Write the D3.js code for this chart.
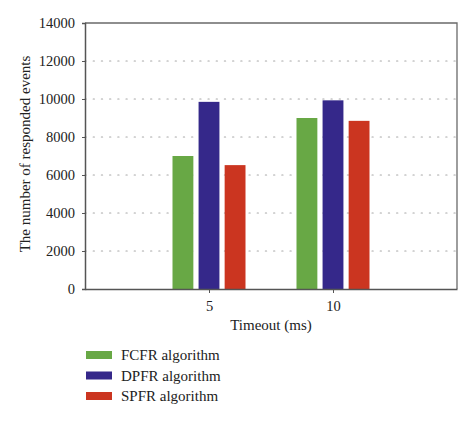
<!DOCTYPE html>
<html>
<head>
<meta charset="utf-8">
<script src="https://cdn.jsdelivr.net/npm/d3@7"></script>
<style>
  body { margin: 0; background: #fff; }
  text { font-family: 'Liberation Serif', 'DejaVu Serif', serif; fill: #222; }
</style>
</head>
<body>
<svg id="chart" width="474" height="421"></svg>
<script>
// chart data
const timeouts = ['5', '10']
const seriesNames = ['FCFR algorithm', 'DPFR algorithm', 'SPFR algorithm']
const fcfrValues = [7000, 9000]
const dpfrValues = [9850, 9930]
const spfrValues = [6520, 8850]
const yTicks = [0, 2000, 4000, 6000, 8000, 10000, 12000, 14000]

const colors = ['#68a845', '#35288a', '#cb3520']
const series = [fcfrValues, dpfrValues, spfrValues]

const margin = { left: 85, top: 23, right: 17, bottom: 132 }
const width = 474 - margin.left - margin.right
const height = 421 - margin.top - margin.bottom

const svg = d3.select('#chart')
const g = svg.append('g')
  .attr('transform', `translate(${margin.left}, ${margin.top})`)

const x = d3.scalePoint()
  .domain(timeouts)
  .range([0, width])
  .padding(1)

const inner = d3.scaleBand()
  .domain(d3.range(series.length))
  .range([-36.5, 36.5])
  .paddingInner(0.2)

const y = d3.scaleLinear()
  .domain([0, 14000])
  .range([height, 0])

// dotted grid lines
g.append('g')
  .selectAll('line')
  .data(yTicks.filter(d => d > 0 && d < 14000))
  .enter()
  .append('line')
  .attr('x1', 0)
  .attr('x2', width)
  .attr('y1', d => y(d))
  .attr('y2', d => y(d))
  .style('stroke', '#a8a8a8')
  .style('stroke-width', 1.2)
  .style('stroke-dasharray', '1.2,7')
  .style('stroke-linecap', 'round')

// bars
const rows = []
timeouts.forEach((t, i) => {
  series.forEach((s, k) => rows.push({ t, k, value: s[i] }))
})

g.append('g')
  .selectAll('rect')
  .data(rows)
  .enter()
  .append('rect')
  .attr('x', d => x(d.t) + inner(d.k))
  .attr('width', inner.bandwidth())
  .attr('y', d => y(d.value))
  .attr('height', d => height - y(d.value))
  .style('fill', d => colors[d.k])

// frame top and right
g.append('path')
  .attr('d', `M0,0H${width}V${height}`)
  .style('fill', 'none')
  .style('stroke', '#6a6a6a')
  .style('stroke-width', 1.3)

const yAxis = g.append('g')
  .call(d3.axisLeft(y).tickValues(yTicks).tickSize(3).tickPadding(7).tickFormat(d3.format('d')))
yAxis.select('.domain').style('stroke', '#555').style('stroke-width', 1.5)
yAxis.selectAll('.tick line').style('stroke', '#555')
yAxis.selectAll('text').style('font-size', '14.5px').style('fill', '#222')

const xAxis = g.append('g')
  .attr('transform', `translate(0, ${height})`)
  .call(d3.axisBottom(x).tickSize(4).tickPadding(8).tickSizeOuter(0))
xAxis.select('.domain').style('stroke', '#555').style('stroke-width', 1.5)
xAxis.selectAll('.tick line').style('stroke', '#555')
xAxis.selectAll('text').style('font-size', '14.5px').style('fill', '#222')

// axis titles
svg.append('text')
  .attr('x', margin.left + x('5') + (x('10') - x('5')) / 2)
  .attr('y', 330)
  .attr('text-anchor', 'middle')
  .style('font-size', '15px')
  .text('Timeout (ms)')

svg.append('text')
  .attr('transform', 'translate(30, 154) rotate(-90)')
  .attr('text-anchor', 'middle')
  .style('font-size', '15px')
  .text('The number of responded events')

// legend
const legend = svg.append('g')
  .attr('transform', 'translate(86, 355)')

const item = legend.selectAll('g')
  .data(seriesNames)
  .enter()
  .append('g')
  .attr('transform', (d, i) => `translate(0, ${i * 20.5})`)

item.append('rect')
  .attr('x', 0)
  .attr('y', -4)
  .attr('width', 26)
  .attr('height', 8)
  .style('fill', (d, i) => colors[i])

item.append('text')
  .attr('x', 35)
  .attr('y', 5)
  .style('font-size', '15px')
  .text(d => d)
</script>
</body>
</html>
